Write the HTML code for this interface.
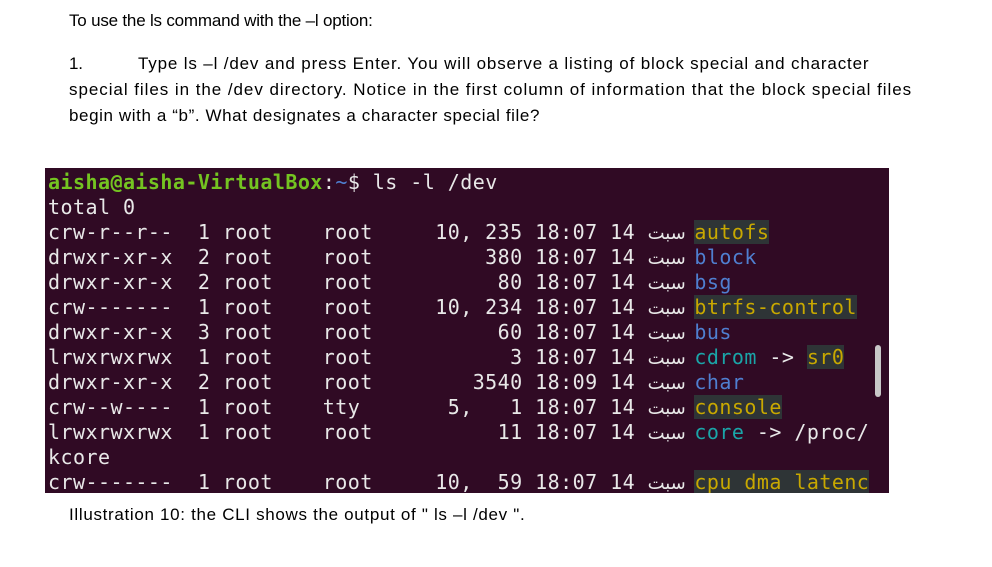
<!DOCTYPE html>
<html><head><meta charset="utf-8"><style>
body{margin:0;width:992px;height:567px;background:#fff;position:relative;overflow:hidden;font-family:"Liberation Sans",sans-serif;color:#000}
.t{position:absolute;font-size:17px;white-space:nowrap;letter-spacing:-0.2px}
#term{position:absolute;left:45px;top:168px;width:844px;height:325px;background:#300a24;overflow:hidden}
.l{position:absolute;left:3px;font-family:"DejaVu Sans Mono",monospace;font-size:20px;letter-spacing:0.45px;color:#e8e8e8;white-space:pre;line-height:25px}
.g{color:#74c421;font-weight:bold}.b{color:#4f7fd0}.c{color:#1aa5a8}
.y{color:#c8a800;background:#2e3436}
.ar{display:inline-block;width:3ch;font-family:"DejaVu Sans",sans-serif;font-size:18px;text-align:center}
</style></head><body>
<div class="t" style="left:69px;top:11px">To use the ls command with the –l option:</div>
<div class="t" style="left:69px;top:54px">1.</div>
<div class="t" style="left:138px;top:54px;letter-spacing:0.84px">Type ls –l /dev and press Enter. You will observe a listing of block special and character</div>
<div class="t" style="left:69px;top:80px;letter-spacing:0.95px">special files in the /dev directory. Notice in the first column of information that the block special files</div>
<div class="t" style="left:69px;top:106px;letter-spacing:0.6px">begin with a “b”. What designates a character special file?</div>
<div id="term">
<div class="l" style="top:2px"><span class="g">aisha@aisha-VirtualBox</span>:<span class="b">~</span>$ ls -l /dev</div>
<div class="l" style="top:27px">total 0</div>
<div class="l" style="top:52px">crw-r--r--  1 root    root     10, 235 18:07 14 <span class="ar">سبت</span> <span class="y">autofs</span></div>
<div class="l" style="top:77px">drwxr-xr-x  2 root    root         380 18:07 14 <span class="ar">سبت</span> <span class="b">block</span></div>
<div class="l" style="top:102px">drwxr-xr-x  2 root    root          80 18:07 14 <span class="ar">سبت</span> <span class="b">bsg</span></div>
<div class="l" style="top:127px">crw-------  1 root    root     10, 234 18:07 14 <span class="ar">سبت</span> <span class="y">btrfs-control</span></div>
<div class="l" style="top:152px">drwxr-xr-x  3 root    root          60 18:07 14 <span class="ar">سبت</span> <span class="b">bus</span></div>
<div class="l" style="top:177px">lrwxrwxrwx  1 root    root           3 18:07 14 <span class="ar">سبت</span> <span class="c">cdrom</span> -&gt; <span class="y">sr0</span></div>
<div class="l" style="top:202px">drwxr-xr-x  2 root    root        3540 18:09 14 <span class="ar">سبت</span> <span class="b">char</span></div>
<div class="l" style="top:227px">crw--w----  1 root    tty       5,   1 18:07 14 <span class="ar">سبت</span> <span class="y">console</span></div>
<div class="l" style="top:252px">lrwxrwxrwx  1 root    root          11 18:07 14 <span class="ar">سبت</span> <span class="c">core</span> -&gt; /proc/</div>
<div class="l" style="top:277px">kcore</div>
<div class="l" style="top:302px">crw-------  1 root    root     10,  59 18:07 14 <span class="ar">سبت</span> <span class="y">cpu_dma_latenc</span></div>
<div style="position:absolute;left:830px;top:177px;width:6px;height:52px;border-radius:3px;background:#c8c8c8"></div>
</div>
<div class="t" style="left:69px;top:505px;letter-spacing:0.68px">Illustration 10: the CLI shows the output of " ls –l /dev ".</div>
</body></html>
